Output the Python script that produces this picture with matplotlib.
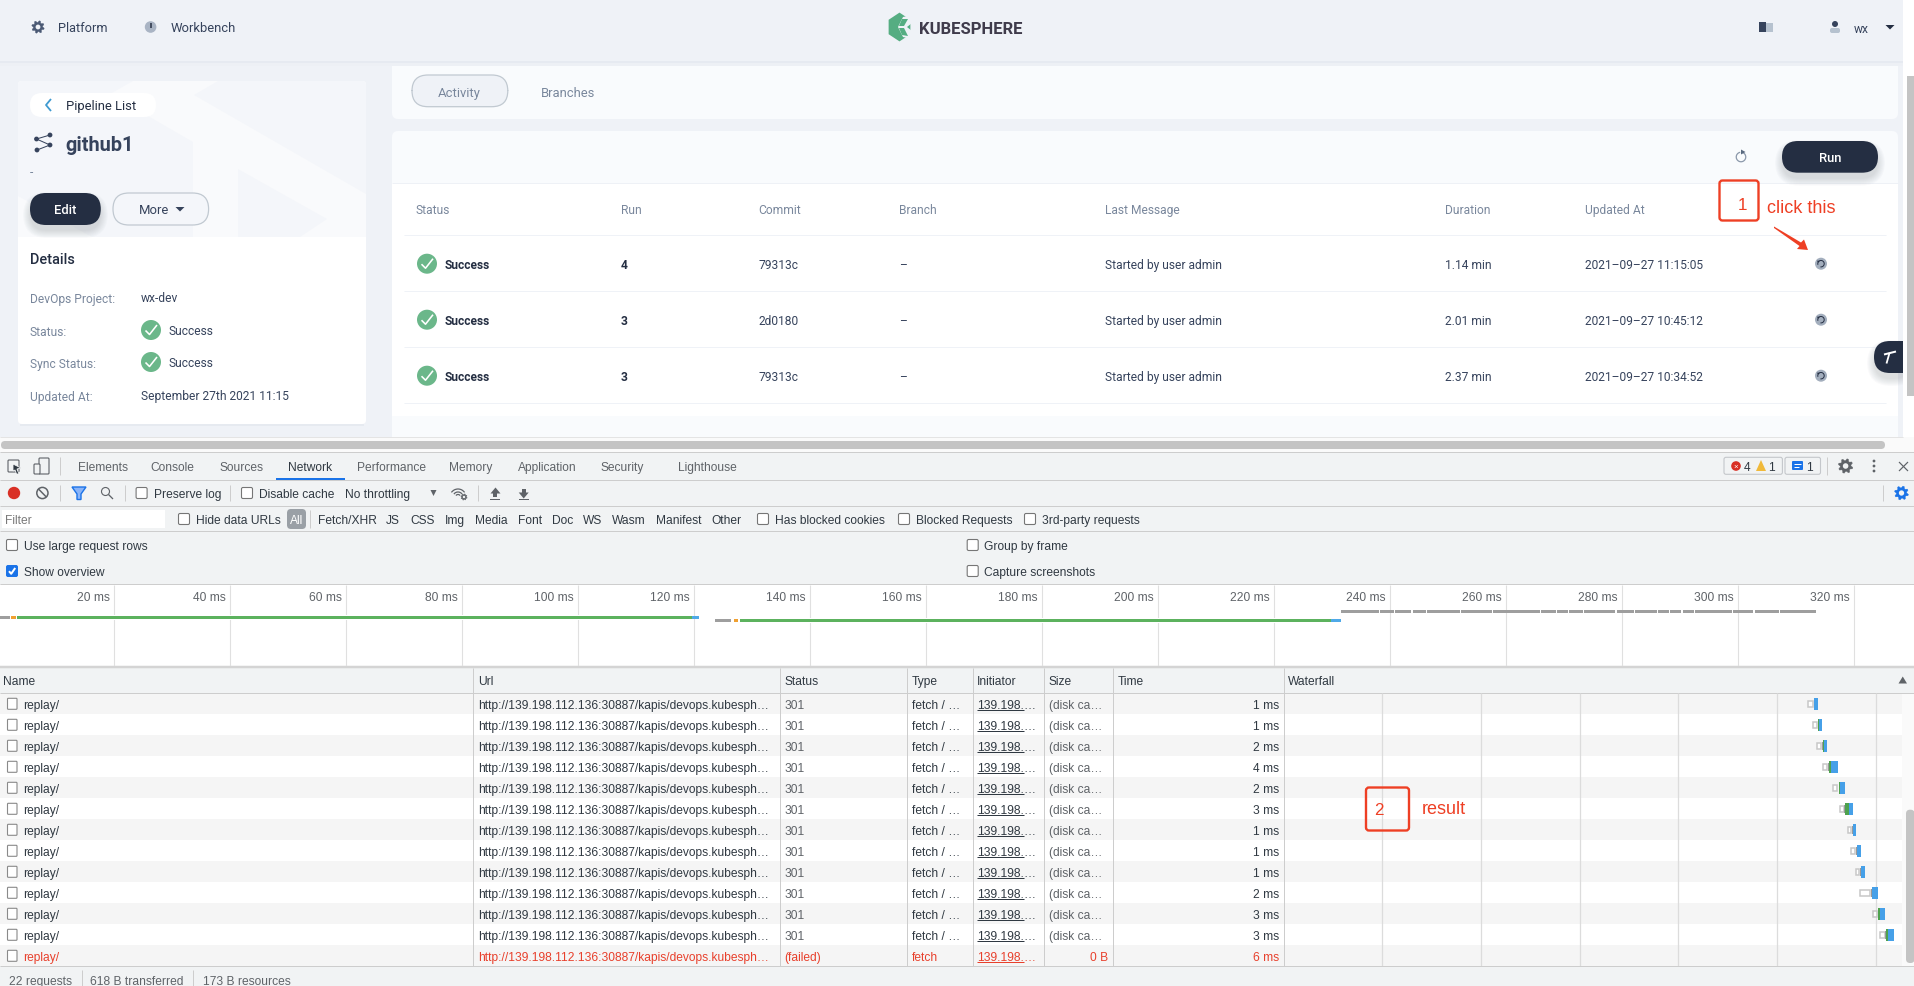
import numpy as np
import matplotlib
matplotlib.use("Agg")
import matplotlib.pyplot as plt
from matplotlib.patches import FancyBboxPatch, Rectangle, Circle, Polygon, Arc

W, H = 1915, 987
KS = ["Roboto", "DejaVu Sans"]
DT = ["Liberation Sans", "DejaVu Sans"]

# ---------------- data ----------------
nav_items = ["Platform", "Workbench"]
run_status = ["Success", "Success", "Success"]
run_numbers = ["4", "3", "3"]
run_commits = ["79313c", "2d0180", "79313c"]
run_branches = ["–", "–", "–"]
run_messages = ["Started by user admin"] * 3
run_durations = ["1.14 min", "2.01 min", "2.37 min"]
run_updated = ["2021–09–27 11:15:05", "2021–09–27 10:45:12", "2021–09–27 10:34:52"]
run_headers = ["Status", "Run", "Commit", "Branch", "Last Message", "Duration", "Updated At"]
detail_labels = ["DevOps Project:", "Status:", "Sync Status:", "Updated At:"]
detail_values = ["wx-dev", "Success", "Success", "September 27th 2021 11:15"]
devtools_tabs = ["Elements", "Console", "Sources", "Network", "Performance", "Memory",
                 "Application", "Security", "Lighthouse"]
filter_types = ["Fetch/XHR", "JS", "CSS", "Img", "Media", "Font", "Doc", "WS", "Wasm", "Manifest", "Other"]
net_headers = ["Name", "Url", "Status", "Type", "Initiator", "Size", "Time", "Waterfall"]
req_names = ["replay/"] * 13
req_url = "http://139.198.112.136:30887/kapis/devops.kubesph…"
req_status = ["301"] * 12 + ["(failed)"]
req_type = ["fetch / …"] * 12 + ["fetch"]
req_size = ["(disk ca…"] * 12 + ["0 B"]
req_time_ms = [1, 1, 2, 4, 2, 3, 1, 1, 1, 2, 3, 3, 6]
overview_ticks_ms = [20, 40, 60, 80, 100, 120, 140, 160, 180, 200, 220, 240, 260, 280, 300, 320]
waterfall_grid_ms = [49.9, 99.85, 149.9, 199.4, 249.3, 299.3]

# waterfall, milliseconds per request
wf_queue_start = [265.0, 267.5, 269.5, 272.2, 277.7, 281.2, 285.1, 286.7, 289.2, 291.2, 297.7, 301.4]
wf_queue_end   = [267.3, 269.3, 271.6, 274.6, 279.7, 282.8, 286.7, 288.7, 290.8, 296.3, 299.6, 303.5]
wf_wait_start  = [267.9, 269.7, 272.4, 275.5, 280.4, 283.4, 287.5, 289.6, 291.6, 297.1, 300.2, 304.1]
wf_recv_start  = [267.9, 270.3, 273.0, 276.5, 281.0, 285.3, 287.5, 289.6, 291.6, 297.1, 301.2, 305.3]
wf_recv_end    = [269.7, 271.8, 274.4, 280.0, 283.4, 287.5, 288.9, 291.6, 293.7, 300.2, 303.7, 308.2]
wf_stall_rows = [2, 3, 5, 6, 7, 8, 9, 11]

# overview bars, milliseconds
ov_a_gray = [(0.3, 1.3), (1.4, 2.0)]
ov_a_orange = (2.2, 3.0)
ov_a_green = (3.2, 119.6)
ov_a_blue = (119.6, 120.8)
ov_b_gray = (123.6, 126.4)
ov_b_orange = (126.8, 127.5)
ov_b_green = (127.9, 229.8)
ov_b_blue = (229.8, 231.5)
ov_c_start = [231.45, 238.29, 240.87, 243.88, 246.32, 252.25, 257.7, 266.0, 268.73, 270.82,
              273.4, 279.06, 282.2, 286.25, 288.27, 290.5, 292.6, 299.09, 302.93, 307.19]
ov_c_end = [238.08, 240.66, 243.67, 246.11, 252.04, 257.49, 265.79, 268.52, 270.61, 273.19,
            278.85, 281.99, 286.04, 288.06, 290.22, 292.32, 298.88, 302.65, 306.98, 313.4]

# ---------------- colours ----------------
PAGE = "#eff2f7"
PANEL = "#f9fbfd"
DARK = "#242e42"
TXT = "#36435c"
MUTED = "#79879c"
LINE = "#eff2f7"
OK = "#6bb78a"
RED = "#ee3f24"
DTBG = "#f1f3f4"
DTLINE = "#cdcdcd"
DTTXT = "#303942"
DTGRAY = "#5f6368"
BLUE = "#1a73e8"
FAIL = "#e8402c"

fig = plt.figure(figsize=(W / 100, H / 100), dpi=100, facecolor="white")
ax = fig.add_axes([0, 0, 1, 1], zorder=0)
ax.set_xlim(0, W); ax.set_ylim(H, 0); ax.axis("off")
top = fig.add_axes([0, 0, 1, 1], zorder=3)
top.set_xlim(0, W); top.set_ylim(H, 0); top.axis("off")


def T(x, y, s, px=12, c=TXT, fam=KS, ha="left", w="normal", a=ax, va="center_baseline", **k):
    dy = -1.0 if fam is KS else -0.4
    return a.text(x - 0.3, y + dy, s, fontsize=px * 0.72, color=c, family=fam, ha=ha, va=va, weight=w, zorder=20, **k)


def R(x0, y0, x1, y1, c, a=ax, z=1, alpha=None):
    a.add_patch(Rectangle((x0, y0), x1 - x0, y1 - y0, fc=c, ec="none", zorder=z, alpha=alpha))


def RR(x0, y0, x1, y1, r, fc, ec="none", lw=1, a=ax, z=2, alpha=None):
    a.add_patch(FancyBboxPatch((x0, y0), x1 - x0, y1 - y0, boxstyle=f"round,pad=0,rounding_size={r}",
                               fc=fc, ec=ec, lw=lw, zorder=z, alpha=alpha))


def L(xs, ys, c, lw=1, a=ax, z=3, **k):
    a.plot(xs, ys, color=c, lw=lw * 0.72, zorder=z, solid_capstyle=k.pop("cap", "butt"), **k)


def shadow(x0, y0, x1, y1, r):
    for i in range(8, 0, -1):
        RR(x0 - i + 1, y0 + 6 - i + 1, x1 + i - 1, y1 + 6 + i - 1, r + i, DARK, z=1.9, alpha=0.018)


def gear(x, y, r, c, bg):
    n = 8
    ang = np.linspace(0, 2 * np.pi, n * 4, endpoint=False) + np.pi / n / 2
    rad = np.array([r, r, r * 0.74, r * 0.74] * n)
    ax.add_patch(Polygon(np.c_[x + rad * np.cos(ang), y + rad * np.sin(ang)], fc=c, ec=c, lw=0.3, zorder=4))
    ax.add_patch(Circle((x, y), r * 0.38, fc=bg, ec="none", zorder=5))


def check_icon(x, y):
    ax.add_patch(Circle((x, y), 10, fc=OK, ec="none", zorder=4))
    L([x - 5.5, x - 1.5, x + 6], [y + 0.5, y + 4.5, y - 5], "white", 1.6, z=5)


def checkbox(x, y, checked=False):
    if checked:
        RR(x - 5.5, y - 5.5, x + 5.5, y + 5.5, 1.5, BLUE, BLUE, 0.7, z=4)
        L([x - 3, x - 0.8, x + 3.2], [y + 0.2, y + 2.8, y - 3], "white", 2, z=5)
    else:
        RR(x - 5.5, y - 5.5, x + 5.5, y + 5.5, 1.5, "white", "#767676", 0.8, z=4)


# ---------------- page ----------------
R(0, 0, 1903, 438, PAGE)
R(1903, 0, W, 453, "white")
R(0, 62, 1903, 64, "#e6eaf1", z=5)
R(0, 64, 1903, 67, "#edf0f5", z=1.5)

T(58, 28.5, nav_items[0], 12.7)
T(170.6, 28.5, nav_items[1], 13)
gear(38, 28, 6.3, "#4a5974", PAGE)
ax.add_patch(Circle((150.6, 28), 5.8, fc="#a9b4c4", ec="none", zorder=4))
L([150.6, 150.6], [23.5, 29], DARK, 1.5, z=5)

# logo
hex_ang = np.deg2rad(np.arange(0, 360, 60))
ax.add_patch(Polygon(np.c_[899.5 + 13.5 * np.cos(hex_ang + np.pi / 6) * 0.93, 28 + 14.4 * np.sin(hex_ang + np.pi / 6)],
                     fc="#55ad82", ec="none", zorder=4))
ax.add_patch(Polygon([[903, 18], [912, 16], [912, 24], [907, 28], [912, 32], [912, 40], [903, 38], [898, 28]],
                     fc=PAGE, ec="none", zorder=5))
ax.add_patch(Polygon([[902, 20], [908, 20], [904, 27], [899, 27]], fc="#55ad82", ec="none", zorder=6))
ax.add_patch(Polygon([[899, 29], [904, 29], [908, 37], [902, 36]], fc="#55ad82", ec="none", zorder=6))
T(919, 29, "KUBESPHERE", 16.6, "#3f3b4b", KS, w="bold")

# user area
R(1759, 23, 1766, 33, "#36435c", z=4)
R(1766, 24, 1773, 33, "#b6c2cf", z=4)
ax.add_patch(Circle((1835, 25), 3, fc="#36435c", ec="none", zorder=4))
RR(1830, 29, 1840, 34, 2, "#b6c2cf", z=4)
T(1862, 29, "wx", 12, TXT, ha="center")
ax.add_patch(Polygon([[1885.5, 26], [1894.5, 26], [1890, 30.5]], fc=DARK, ec="none", zorder=4))

# left card
RR(18, 82, 366, 425, 4, "white", z=1.6)
shadow_col = "#e4e8ef"
L([20, 364], [426, 426], shadow_col, 1.5, z=1.5)
RR(18, 82, 366, 238, 4, "#f4f6fa", z=1.7)
R(18, 232, 366, 238, "#f4f6fa", z=1.7)
ax.add_patch(Polygon([[133, 82], [218, 82], [194, 96], [366, 195], [366, 238], [300, 238], [327, 220],
                      [238, 170], [238, 238], [193, 238], [193, 143], [110, 95]],
                     fc="#f9fafc", ec="none", zorder=1.8))
ax.add_patch(Polygon([[18, 197], [92, 238], [18, 238]], fc="#f9fafc", ec="none", zorder=1.8))

RR(30, 94, 156, 118, 12, "white", z=3)
L([51, 46, 51], [100, 106, 112], "#3e9ad1", 1.8)
T(66, 106, "Pipeline List", 13, DARK)
for dx, dy in [(36.5, 140), (50, 136), (50, 146), (37, 151)]:
    ax.add_patch(Circle((dx, dy), 2.4, fc=TXT, ec="none", zorder=4))
L([36.5, 50], [140, 136], TXT, 1); L([36.5, 50], [140, 146], TXT, 1); L([37, 50], [151, 146], TXT, 1)
T(66, 144.5, "github1", 20, TXT, w="bold")
T(30, 172, "-", 12, MUTED)

shadow(30, 194, 100.8, 226, 16)
RR(30, 194, 100.8, 226, 16, DARK, z=3)
T(65.4, 210, "Edit", 13, "white", ha="center", w="medium")
RR(113, 194, 208.6, 226, 16, "#f4f6fa", "#c1c9d1", 0.9, z=3)
T(139, 210, "More", 13, TXT)
ax.add_patch(Polygon([[175.5, 208], [184.5, 208], [180, 212.5]], fc=TXT, ec="none", zorder=4))

T(30, 260, "Details", 14.5, DARK, w="medium")
for y, s in zip([299, 331.7, 363.7, 396.7], detail_labels):
    T(30, y, s, 12, MUTED)
T(141, 298, detail_values[0], 12, TXT)
T(141, 395.7, detail_values[3], 12, TXT)
for y, s in zip([331, 363], detail_values[1:3]):
    check_icon(151, y)
    T(169, y + 0.3, s, 12, TXT)

# right panels
RR(392, 56, 1898, 120, 6, PANEL, z=1.2)
R(392, 56, 1898, 64, PAGE, z=1.3)
RR(412, 76, 507.8, 107.7, 16, PAGE, "#c1c9d1", 0.9, z=2)
T(460, 92.6, "Activity", 13, MUTED, ha="center")
T(541.6, 92.6, "Branches", 13, MUTED)

RR(392, 132, 1898, 300, 6, PANEL, z=1.2)
R(392, 184, 1898, 438, PANEL, z=1.2)
R(392, 184.3, 1898, 417, "white", z=1.3)
L([392, 1898], [184.3, 184.3], "#eef1f6", 1, z=1.4)
for y in [236.3, 292.3, 348.3, 404.3]:
    L([404, 1886], [y, y], LINE, 1, z=1.4)

col_x = [416, 621, 759, 899.6, 1105, 1445, 1585]
for x, s in zip(col_x, run_headers):
    T(x, 209.7, s, 12, MUTED)
for i, y in enumerate([264.7, 320.7, 376.7]):
    check_icon(427, y)
    T(444.5, y + 0.3, run_status[i], 12, DARK, w="bold")
    T(621, y, run_numbers[i], 12, DARK, w="bold")
    T(759, y, run_commits[i], 12)
    T(899.6, y, run_branches[i], 12)
    T(1105, y, run_messages[i], 12)
    T(1445, y, run_durations[i], 12)
    T(1585, y, run_updated[i], 12)
    ax.add_patch(Circle((1821, y), 6, fc="#a3aebd", ec="none", zorder=4))
    ax.add_patch(Arc((1821, y), 6.4, 6.4, theta1=-200, theta2=100, ec=DARK, lw=0.7, zorder=5))
    ax.add_patch(Polygon([[1817, y - 3], [1820, y - 3], [1818, y - 1]], fc=DARK, ec="none", zorder=5))

shadow(1782, 142, 1878, 173.7, 16)
RR(1782, 142, 1878, 173.7, 16, DARK, z=3)
T(1830, 158, "Run", 13, "white", ha="center", w="medium")
ax.add_patch(Arc((1741, 158), 9.5, 9.5, theta1=-80, theta2=260, ec="#8b98aa", lw=0.9, zorder=4))
ax.add_patch(Polygon([[1741, 150.5], [1745.5, 153], [1741, 155.5]], fc="#5a6a80", ec="none", zorder=4))
# floating tool button
shadow(1874, 342, 1910, 374, 16)
RR(1874, 342, 1920, 374, 16, DARK, z=3)
R(1903, 336, 1915, 390, "white", z=3.1)
L([1886.5, 1889.5], [364.5, 354], "white", 1.8, z=4)
L([1884, 1896], [355.5, 352.5], "white", 2, z=4)

# page scrollbars
R(1907, 77, 1915, 397, "#c4c4c4", z=3.2)
R(0, 438, W, 453, "#fafafa", z=3.2)
L([0, 1903], [438.4, 438.4], "#e4e4e4", 1, z=3.3)
RR(1, 442, 1885, 450, 4, "#c4c4c4", z=3.4)

# ---------------- devtools chrome ----------------
R(0, 453, W, 987, DTBG, z=3.5)
for y in [453.3, 480.7, 507.3, 532.3, 585.3]:
    L([0, W], [y, y], DTLINE, 1, z=3.6)
tab_x = [78, 151, 220, 288, 357, 449, 518, 601, 678.6]
for x, s in zip(tab_x, devtools_tabs):
    T(x, 466.7, s, 12, DTTXT if s == "Network" else DTGRAY, DT)
R(276, 479, 345, 481, BLUE, z=4)
L([60.4, 60.4], [458, 476], DTLINE, 1, z=4)
# inspect + device icons
RR(8, 461, 19, 473, 1, "none", DTGRAY, 0.8, z=4)
ax.add_patch(Polygon([[13, 465], [21, 469], [17, 470], [19, 475], [16.5, 475], [15, 471], [13, 472]], fc=DTTXT, ec=DTBG, lw=0.6, zorder=5))
RR(39, 459, 49, 475, 1, "none", DTGRAY, 0.8, z=4)
RR(34, 465, 40, 475, 1, DTBG, DTGRAY, 0.8, z=5)

# toolbar
ax.add_patch(Circle((14, 494), 6.2, fc="#d93025", ec="none", zorder=4))
ax.add_patch(Circle((42.4, 494), 5.6, fc="none", ec=DTGRAY, lw=1.1, zorder=4))
L([38.5, 46.3], [490, 498], DTGRAY, 1.5, z=4)
L([60.4, 60.4], [486, 502], DTLINE, 1, z=4)
ax.add_patch(Polygon([[72, 488], [86, 488], [81, 495], [81, 500.5], [77, 500.5], [77, 495]], fc="#8ab4f8", ec=BLUE, lw=1, zorder=4))
ax.add_patch(Circle((105.5, 492.5), 4, fc="none", ec=DTGRAY, lw=0.8, zorder=4))
L([108.5, 113], [495.5, 500], DTGRAY, 1.3, z=4)
for x in [125.3, 230.2, 477.6, 1883]:
    L([x, x], [486, 502], DTLINE, 1, z=4)
checkbox(141.6, 494); T(154, 493.7, "Preserve log", 12, DTTXT, DT)
checkbox(247, 494); T(259, 493.7, "Disable cache", 12, DTTXT, DT)
T(345.7, 493.7, "No throttling", 12, DTTXT, DT)
ax.add_patch(Polygon([[430.5, 491], [436.5, 491], [433.5, 497]], fc=DTGRAY, ec="none", zorder=4))
for r in [16, 10, 5]:
    ax.add_patch(Arc((458, 498), r, r, theta1=215, theta2=325, ec=DTGRAY, lw=0.9, zorder=4))
gear(464, 498, 3.2, DTGRAY, DTBG)
for x, up in [(495.5, True), (523.7, False)]:
    s = 1 if up else -1
    ax.add_patch(Polygon([[x - 5, 494 + s * 0.5], [x, 494 - s * 5.5], [x + 5, 494 + s * 0.5]], fc=DTGRAY, ec="none", zorder=4))
    R(x - 2, min(494, 494 + s * 4), x + 2, max(494, 494 + s * 4), DTGRAY, z=4)
    R(x - 5, 500, x + 5, 501.2, DTGRAY, z=4)
gear(1901.5, 494, 7, BLUE, DTBG)

# filter row
R(2, 510.7, 165, 529, "white", z=4)
T(5, 520.3, "Filter", 12, "#7a7a7a", DT)
checkbox(184, 520); T(196, 520, "Hide data URLs", 12, DTTXT, DT)
RR(287, 510, 306, 530, 4, "#9aa0a6", z=4)
T(296.5, 520, "All", 12, "white", DT, ha="center")
L([310.2, 310.2], [511, 529], DTLINE, 1, z=4)
for x, s in zip([318, 386.5, 410.6, 445, 475, 518, 552.6, 583.7, 612.6, 656.3, 712], filter_types):
    T(x, 520, s, 12, DTTXT, DT)
checkbox(763, 520); T(775.5, 520, "Has blocked cookies", 12, DTTXT, DT)
checkbox(904, 520); T(916, 520, "Blocked Requests", 12, DTTXT, DT)
checkbox(1030, 520); T(1042, 520, "3rd-party requests", 12, DTTXT, DT)

checkbox(12, 546); T(24, 545.7, "Use large request rows", 12, DTTXT, DT)
checkbox(12, 572, True); T(24, 571.7, "Show overview", 12, DTTXT, DT)
checkbox(972.7, 546); T(984, 545.7, "Group by frame", 12, DTTXT, DT)
checkbox(972.7, 572); T(984, 571.7, "Capture screenshots", 12, DTTXT, DT)

# issue badges
RR(1724, 458.3, 1782.4, 475.3, 2, DTBG, "#c4c7cb", 0.8, z=4)
RR(1785, 458.3, 1820.5, 475.3, 2, DTBG, "#c4c7cb", 0.8, z=4)
ax.add_patch(Circle((1736, 467), 4.8, fc="#d93025", ec="none", zorder=5))
T(1736, 467, "×", 8, "white", DT, ha="center")
T(1747, 467, "4", 12, DTTXT, DT, ha="center")
ax.add_patch(Polygon([[1761, 461], [1766, 472], [1756, 472]], fc="#f0b93a", ec="none", zorder=5))
T(1772, 467, "1", 12, DTTXT, DT, ha="center")
RR(1792, 462, 1803, 471, 1, BLUE, z=5)
L([1794, 1801], [464.5, 464.5], "white", 1, z=6)
L([1794, 1799], [467.5, 467.5], "white", 1, z=6)
T(1810, 467, "1", 12, DTTXT, DT, ha="center")
L([1827, 1827], [458, 476], DTLINE, 1, z=4)
gear(1845.6, 467, 7.3, DTGRAY, DTBG)
for dy in [-5, 0, 5]:
    ax.add_patch(Circle((1874, 467 + dy), 1.4, fc=DTGRAY, ec="none", zorder=4))
L([1899, 1908], [463, 472], DTGRAY, 1.2, z=4)
L([1899, 1908], [472, 463], DTGRAY, 1.2, z=4)

# ---------------- overview ----------------
R(0, 586, W, 666.5, "white", z=3.7)
ov = fig.add_axes([0, 1 - 666.5 / H, 1, 80.5 / H], zorder=1)
ov.set_xlim(0.293, 330.5); ov.set_ylim(666.5, 586); ov.axis("off")
for m in overview_ticks_ms:
    ov.vlines(m, 586, 666.5, color="#e0e0e0", lw=0.8, zorder=1)
    T(m - 0.5, 596.7, f"{m} ms", 12, DTGRAY, DT, ha="right", a=ov)
ov.barh(618.3, ov_a_green[1] - 0, left=0, height=5, color="white", zorder=2)
ov.barh(621.5, ov_b_green[1] + 3 - ov_b_gray[0], left=ov_b_gray[0], height=5, color="white", zorder=2)


def seg(span, y, c):
    ov.barh(y, span[1] - span[0], left=span[0], height=2.6, color=c, zorder=3, lw=0)


for g in ov_a_gray:
    seg(g, 618.3, "#9e9e9e")
seg(ov_a_orange, 618.3, "#f0a030")
seg(ov_a_green, 618.3, "#5cb25e")
seg(ov_a_blue, 618.3, "#4fa9e8")
seg(ov_b_gray, 621.5, "#9e9e9e")
seg(ov_b_orange, 621.5, "#f0a030")
seg(ov_b_green, 621.5, "#5cb25e")
seg(ov_b_blue, 621.5, "#4fa9e8")
ov.barh(612.3, np.array(ov_c_end) - np.array(ov_c_start), left=ov_c_start, height=2.6, color="#9e9e9e", lw=0, zorder=3)

# ---------------- network table ----------------
ROW0, ROWH = 694.3, 21.0
nrows = len(req_names)
L([0, W], [667.5, 667.5], "#d4d4d4", 2.5, z=3.8)
L([0, W], [694, 694], DTLINE, 1, z=3.8)
R(0, ROW0, 1902.3, ROW0 + nrows * ROWH, "white", z=3.7)
R(1902.3, ROW0, W, ROW0 + nrows * ROWH, "#fafafa", z=3.7)
for i in range(nrows):
    if i % 2 == 0:
        R(0, ROW0 + i * ROWH, 1902.3, ROW0 + (i + 1) * ROWH, "#f5f5f5", z=3.75)
L([0, W], [967.3, 967.3], DTLINE, 1, z=4)
sep_x = [473.5, 779.6, 907.3, 973.5, 1044.5, 1113.5, 1283.7]
for x in sep_x:
    L([x, x], [669, 967.3], DTLINE, 1, z=4)
for x, s in zip([3, 478.4, 784.5, 912, 977.5, 1049, 1118, 1288], net_headers):
    T(x, 680.7, s, 12, DTTXT, DT)
ax.add_patch(Polygon([[1898.5, 684.5], [1907, 684.5], [1902.75, 677.5]], fc=DTGRAY, ec="none", zorder=5))

for i in range(nrows):
    y = ROW0 + (i + 0.5) * ROWH
    failed = req_status[i] == "(failed)"
    c = FAIL if failed else DTTXT
    RR(7.5, y - 5.5, 17, y + 5.5, 0.8, "white", "#8a8a8a", 0.8, z=5)
    T(23.7, y, req_names[i], 12, c, DT)
    T(478.4, y, req_url, 12, c, DT)
    T(784.5, y, req_status[i], 12, c if failed else DTGRAY, DT)
    T(912, y, req_type[i], 12, c, DT)
    T(977.5, y, "139.198.", 12, c, DT)
    T(1023.7, y, "…", 12, c, DT)
    L([977.5, 1023.7], [y + 6, y + 6], c, 1, z=5)
    if failed:
        T(1108.6, y, req_size[i], 12, c, DT, ha="right")
    else:
        T(1049, y, req_size[i], 12, DTGRAY, DT)
    T(1279, y, f"{req_time_ms[i]} ms", 12, c, DT, ha="right")

# waterfall as its own axes
wf = fig.add_axes([1283.6 / W, 1 - (ROW0 + nrows * ROWH) / H, (1902 - 1283.6) / W, nrows * ROWH / H], zorder=2)
wf.set_xlim(0, 312.3); wf.set_ylim(nrows - 0.5, -0.5); wf.axis("off")
wf.vlines(waterfall_grid_ms, -0.5, nrows - 0.5, color="#dcdcdc", lw=0.9, zorder=1)
qs, qe = np.array(wf_queue_start), np.array(wf_queue_end)
ws, rs, re_ = np.array(wf_wait_start), np.array(wf_recv_start), np.array(wf_recv_end)
rows = np.arange(len(qs))
wf.barh(rows, qe - qs, left=qs, height=0.28, facecolor="white", edgecolor="#c8c8c8", lw=1.1, zorder=3)
wf.barh(wf_stall_rows, 0.45, left=qe[wf_stall_rows] + 0.35, height=0.36, color="#9a9a9a", lw=0, zorder=3)
wf.barh(rows, rs - ws, left=ws, height=0.6, color="#4ea24e", lw=0, zorder=4)
wf.barh(rows, re_ - rs, left=rs, height=0.6, color="#46a0e8", lw=0, zorder=4)

# table scrollbar + footer
RR(1906, 810.7, 1914.5, 964, 4, "#c4c4c4", z=5)
T(9, 980.7, "22 requests", 12, DTGRAY, DT)
T(90.6, 980.7, "618 B transferred", 12, DTGRAY, DT)
T(203, 980.7, "173 B resources", 12, DTGRAY, DT)
L([81.6, 81.6], [971, 987], DTLINE, 1, z=5)
L([193.5, 193.5], [971, 987], DTLINE, 1, z=5)

# ---------------- annotations ----------------
RR(1719.5, 181.5, 1758.5, 221.5, 3, "none", RED, 1.7, a=top)
T(1743, 204, "1", 17, RED, DT, ha="center", a=top)
T(1767, 207, "click this", 18, RED, DT, a=top)
top.add_patch(Polygon([[1774, 227.5], [1801, 243.5], [1804, 240.5], [1808, 251], [1797, 250], [1799.5, 247], [1774, 229]],
                      fc=RED, ec="none", zorder=5))
RR(1366, 788.5, 1409, 831.5, 3, "none", RED, 1.7, a=top)
T(1379, 809, "2", 17, RED, DT, ha="center", a=top)
T(1422.5, 808, "result", 18, RED, DT, a=top)

fig.savefig("out.png", dpi=100, facecolor="white")
